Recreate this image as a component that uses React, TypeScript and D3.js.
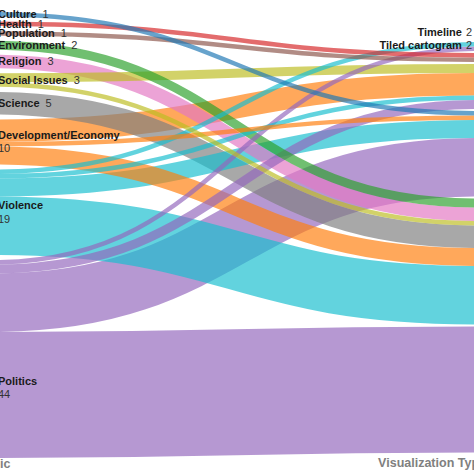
import * as d3 from 'd3'

// Topics (left column), in stacking order
const topics = [
  'Culture',
  'Health',
  'Population',
  'Environment',
  'Religion',
  'Social Issues',
  'Science',
  'Development/Economy',
  'Violence',
  'Politics',
]
const topicCounts = [1, 1, 1, 2, 3, 3, 5, 10, 19, 44]

// Visualization types (right column), in stacking order
const vizTypes = [
  'Timeline',
  'Tiled cartogram',
  'Flow map',
  'Point map',
  'Proportional symbol map',
  'Choropleth map',
]
const vizCounts = [2, 2, 10, 19, 28, 28]
const labelledTypes = ['Timeline', 'Tiled cartogram']

// Flows topic -> visualization type
const flowTopic = [
  'Culture',
  'Health',
  'Population',
  'Environment',
  'Religion',
  'Social Issues',
  'Social Issues',
  'Science',
  'Development/Economy',
  'Development/Economy',
  'Development/Economy',
  'Violence',
  'Violence',
  'Violence',
  'Violence',
  'Politics',
  'Politics',
  'Politics',
  'Politics',
]
const flowType = [
  'Point map',
  'Tiled cartogram',
  'Tiled cartogram',
  'Proportional symbol map',
  'Proportional symbol map',
  'Flow map',
  'Proportional symbol map',
  'Proportional symbol map',
  'Flow map',
  'Point map',
  'Proportional symbol map',
  'Timeline',
  'Flow map',
  'Point map',
  'Proportional symbol map',
  'Timeline',
  'Flow map',
  'Point map',
  'Choropleth map',
]
const flowCount = [1, 1, 1, 2, 3, 2, 1, 5, 5, 1, 4, 1, 1, 4, 13, 1, 2, 13, 28]

const FONT = '"Liberation Sans", Arial, Helvetica, sans-serif'

export default function App() {
  const width = 474
  const height = 474
  const leftX = -8 // right edge of topic nodes
  const rightX = 478 // left edge of type nodes

  const total = d3.sum(topicCounts)
  const ky = d3.scaleLinear().domain([0, total]).range([0, 400.5])

  const stack = (counts: number[], top: number, pad: number) => {
    let y = top
    return counts.map((c) => {
      const y0 = y
      y += ky(c)
      const node = { y0, y1: y }
      y += pad
      return node
    })
  }
  const leftNodes = stack(topicCounts, 12, 5.06)
  const rightNodes = stack(vizCounts, 42, 2)

  const links = flowCount.map((v, i) => ({
    s: topics.indexOf(flowTopic[i]),
    t: vizTypes.indexOf(flowType[i]),
    v,
    sy: 0,
    ty: 0,
  }))

  // offsets inside each node, sorted by the position of the other end
  topics.forEach((_, si) => {
    let y = leftNodes[si].y0
    links
      .filter((l) => l.s === si)
      .sort((a, b) => a.t - b.t)
      .forEach((l) => {
        l.sy = y + ky(l.v) / 2
        y += ky(l.v)
      })
  })
  vizTypes.forEach((_, ti) => {
    let y = rightNodes[ti].y0
    links
      .filter((l) => l.t === ti)
      .sort((a, b) => a.s - b.s)
      .forEach((l) => {
        l.ty = y + ky(l.v) / 2
        y += ky(l.v)
      })
  })

  const color = d3
    .scaleOrdinal<string, string>(d3.schemeCategory10)
    .domain([...topics].sort())

  const linkPath = d3.linkHorizontal()

  const drawOrder = [...links].sort((a, b) => b.v - a.v || b.s - a.s)

  // Politics label sits lower, clear of the crossing ribbons
  const labelShift: Record<string, number> = { Politics: 29 }

  return (
    <svg
      width={width}
      height={height}
      style={{ position: 'absolute', left: 0, top: 0, background: '#fff' }}
    >
      <g fill="none">
        {drawOrder.map((l, i) => (
          <path
            key={i}
            d={linkPath({ source: [leftX, l.sy], target: [rightX, l.ty] } as any) || ''}
            stroke={color(topics[l.s])}
            strokeOpacity={0.68}
            strokeWidth={ky(l.v)}
          />
        ))}
      </g>

      <g fontFamily={FONT} fontSize={11}>
        {topics.map((name, i) => {
          const n = leftNodes[i]
          const cy = (n.y0 + n.y1) / 2 + (labelShift[name] || 0)
          const tall = n.y1 - n.y0 > 30
          return tall ? (
            <text key={name} x={-2} y={cy} fill="#1a1a1a">
              <tspan fontWeight="bold" dy="-0.25em">
                {name}
              </tspan>
              <tspan x={-2} dy="1.2em" fill="#333">
                {topicCounts[i]}
              </tspan>
            </text>
          ) : (
            <text key={name} x={-2} y={cy} dy="0.35em" fill="#1a1a1a">
              <tspan fontWeight="bold">{name}</tspan>
              <tspan dx={6} fill="#333">
                {topicCounts[i]}
              </tspan>
            </text>
          )
        })}
        {vizTypes
          .map((name, i) => ({ name, i }))
          .filter((d) => labelledTypes.includes(d.name))
          .map(({ name, i }) => {
            const n = rightNodes[i]
            const cy = (n.y0 + n.y1) / 2 - (i === 0 ? 14 : 12)
            return (
              <text key={name} x={472} y={cy} dy="0.35em" textAnchor="end" fill="#1a1a1a">
                <tspan fontWeight="bold">{name}</tspan>
                <tspan dx={4} fill="#333">
                  {vizCounts[i]}
                </tspan>
              </text>
            )
          })}
      </g>

      <g fontFamily={FONT} fontSize={12.5} fontWeight="bold" fill="#808080">
        <text x={-22} y={468}>
          Topic
        </text>
        <text x={486} y={467} textAnchor="end">
          Visualization Type
        </text>
      </g>
    </svg>
  )
}
